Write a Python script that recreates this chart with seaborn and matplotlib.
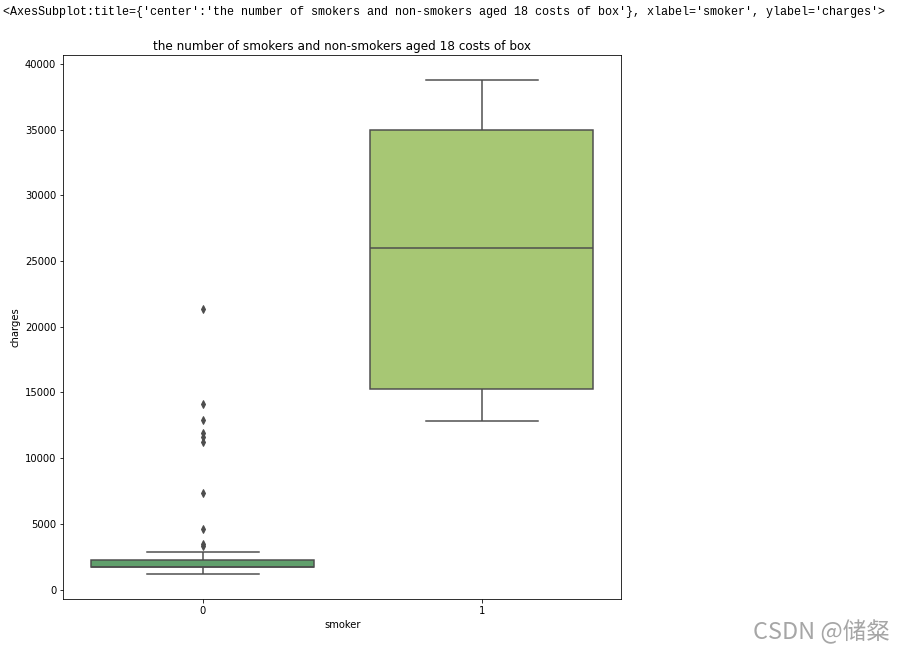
import pandas
import matplotlib
matplotlib.use('Agg')
import matplotlib.pyplot as plt
import seaborn as sns

# charges of 18-year-olds
non_smoker = [1165, 1242, 1253, 1532, 1607, 1622, 1631, 1635, 1664, 1674,
              1682, 1690, 1698, 1705, 1711, 1717, 1722, 1726, 1730, 1733,
              1736, 1739, 1741, 1743, 1745, 1880, 1964, 1984, 2003, 2035,
              2055, 2104, 2128, 2138, 2166, 2205, 2284, 2396, 2893,
              3335, 3503, 4591, 7355, 11220, 11600, 11900, 12914, 14110, 21320]
smoker = [12815, 15252, 25988, 34973, 38780]

title = 'the number of smokers and non-smokers aged 18 costs of box'
repr_line = ("<AxesSubplot:title={'center':'" + title + "'}, "
             "xlabel='smoker', ylabel='charges'>")

df = pandas.DataFrame({
    'smoker': [0] * len(non_smoker) + [1] * len(smoker),
    'charges': non_smoker + smoker,
})

dpi = 72
fig = plt.figure(figsize=(905 / dpi, 649 / dpi), dpi=dpi)
ax = fig.add_axes([63.3 / 905, 50 / 649, 558 / 905, 543.7 / 649])

gray = '#4d4d4d'
sns.boxplot(data=df, x='smoker', y='charges', hue='smoker', palette='summer',
            legend=False, saturation=0.75, linecolor=gray, linewidth=1.5,
            width=0.8, ax=ax,
            flierprops={'marker': 'd', 'markersize': 5,
                        'markerfacecolor': gray, 'markeredgecolor': gray})

ax.set_title(title, fontsize=12, pad=5)
ax.set_xlabel('smoker', fontsize=10)
ax.set_ylabel('charges', fontsize=10)
ax.tick_params(labelsize=10)

fig.text(3 / 905, 1 - 12 / 649, repr_line, family='Liberation Mono',
         fontsize=11.8, va='center', ha='left')
fig.text(890 / 905, 1 - 632 / 649, 'CSDN @储粲',
         family=['Noto Sans CJK SC', 'DejaVu Sans'], fontsize=23.5,
         color='#a6a6a6', va='center', ha='right')

fig.savefig('out.png', dpi=dpi)
